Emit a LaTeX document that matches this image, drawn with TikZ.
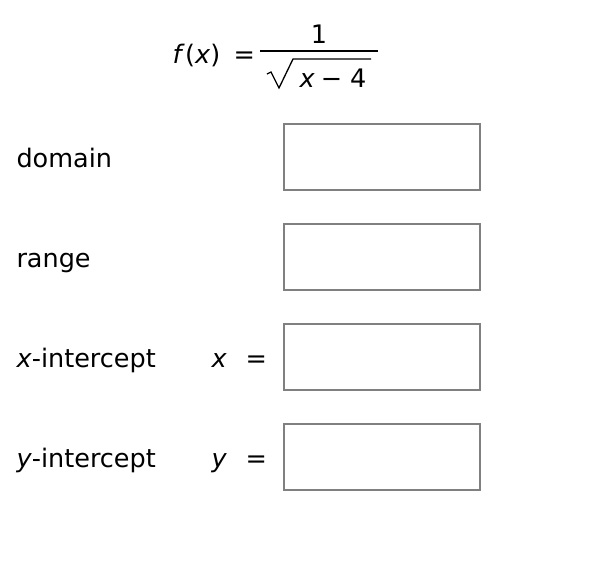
\documentclass[tikz,border=0pt]{standalone}
\usepackage{fontspec}
\setmainfont{DejaVu Sans}
\usetikzlibrary{positioning}
\usetikzlibrary{calc}
\definecolor{boxgray}{HTML}{808080}
\tikzset{every picture/.style={line width=1pt}}

\begin{document}
\begin{tikzpicture}[x=1pt,y=-1pt,font=\fontsize{25.5}{30}\selectfont,
ans/.style={draw=boxgray, line width=2pt, minimum width=196pt, minimum height=66pt, inner sep=0pt},
lbl/.style={anchor=base west, inner sep=0pt}]
\useasboundingbox (0,0) rectangle (598,566);
% formula
\node (fx) at (172,63) [lbl] {\textit{f}\kern0.5pt(\textit{x})};
\node (eq) at (233,63) [lbl] {=};
\node (one) at (319,43) [anchor=base, inner sep=0pt] {1};
\coordinate (barl) at (260,51);
\coordinate (barr) at (378,51);
\draw[line width=1.5pt] (barl) -- (barr);
\node (den) at (299,87) [lbl] {\textit{x}\kern6pt−\kern8pt4};
\draw[line width=1.3pt] (267,74) -- (271,72) -- (279,88) -- (293,59) -- (371,59);
\foreach \i/\t in {1/domain,2/range,3/{\textit{x}-intercept},4/{\textit{y}-intercept}} {
\node (box\i) at ($(382,57)+\i*(0,100)$) [ans] {};
\node (lab\i) at ($(16,67)+\i*(0,100)$) [lbl] {\t};
\ifnum \i = 3
\node (eqx) at ($(211,67)+\i*(0,100)$) [lbl] {\textit{x}};
\node (eqxs) at ($(245,67)+\i*(0,100)$) [lbl] {=};
\fi
\ifnum \i = 4
\node (eqy) at ($(211,67)+\i*(0,100)$) [lbl] {\textit{y}};
\node (eqys) at ($(245,67)+\i*(0,100)$) [lbl] {=};
\fi
}
\end{tikzpicture}
\end{document}
